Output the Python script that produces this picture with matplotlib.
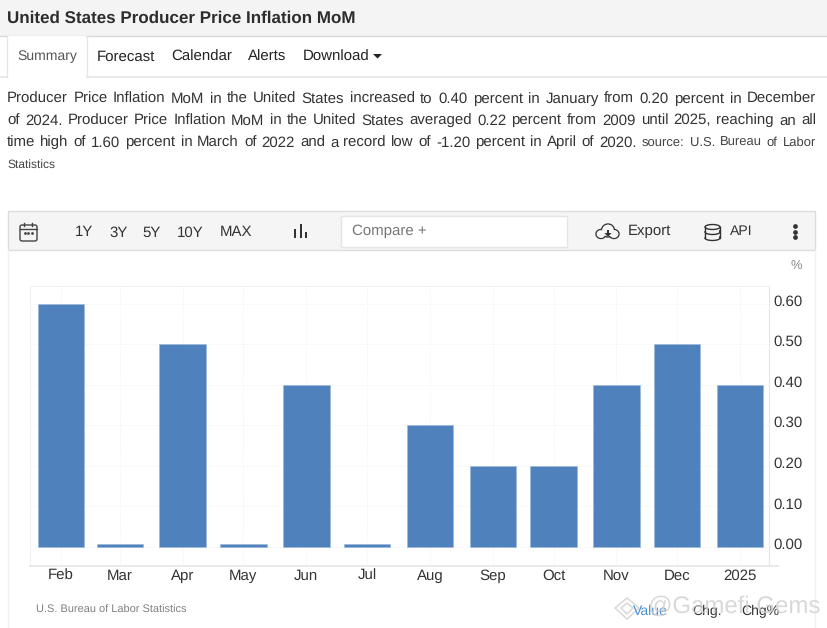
import pandas as pd
import matplotlib.pyplot as plt
import matplotlib.dates as mdates
from matplotlib.patches import Rectangle, FancyBboxPatch, Ellipse, Polygon
from matplotlib.transforms import ScaledTranslation

plt.rcParams["font.family"] = ["Liberation Sans", "DejaVu Sans"]
plt.rcParams["text.hinting"] = "no_hinting"
plt.rcParams["text.hinting_factor"] = 1

months = ["2024-02-01", "2024-03-01", "2024-04-01", "2024-05-01", "2024-06-01", "2024-07-01",
          "2024-08-01", "2024-09-01", "2024-10-01", "2024-11-01", "2024-12-01", "2025-01-01"]
tick_labels = ["Feb", "Mar", "Apr", "May", "Jun", "Jul", "Aug", "Sep", "Oct", "Nov", "Dec", "2025"]
values = [0.60, 0.008, 0.50, 0.008, 0.40, 0.008, 0.30, 0.20, 0.20, 0.40, 0.50, 0.40]
y_ticks = [0.0, 0.1, 0.2, 0.3, 0.4, 0.5, 0.6]

tabs = [("Forecast", 97), ("Calendar", 171), ("Alerts", 248), ("Download", 303)]
ranges = [("1Y", 84.5), ("3Y", 118.5), ("5Y", 152), ("10Y", 190.5), ("MAX", 236)]
body_lines = [
    "Producer Price Inflation MoM in the United States increased to 0.40 percent in January from 0.20 percent in December",
    "of 2024. Producer Price Inflation MoM in the United States averaged 0.22 percent from 2009 until 2025, reaching an all",
    "time high of 1.60 percent in March of 2022 and a record low of -1.20 percent in April of 2020.",
]
source_text = "source: U.S. Bureau of Labor"

W, H = 828, 628
fig = plt.figure(figsize=(W / 100, H / 100), dpi=100, facecolor="white")

# page chrome, in pixel coordinates
bg = fig.add_axes([0, 0, 1, 1])
bg.set_xlim(0, W)
bg.set_ylim(H, 0)
bg.axis("off")

bg.add_patch(Rectangle((0, 0), W, 35.5, fc="#f4f4f4", ec="none"))
bg.plot([0, W], [35.5, 35.5], color="#d9d9d9", lw=1)
bg.text(7, 18, "United States Producer Price Inflation MoM", fontsize=12.6, fontweight="bold",
        color="#2d2d2d", va="center")

# tabs
bg.plot([0, W], [76.5, 76.5], color="#e6e6e6", lw=1.2)
bg.add_patch(Rectangle((7.5, 36), 79, 42, fc="white", ec="none", zorder=2))
bg.plot([7.5, 7.5], [36, 77], color="#e6e6e6", lw=1, zorder=3)
bg.plot([87, 87], [36, 77], color="#e6e6e6", lw=1, zorder=3)
bg.text(17, 56.5, "Summary", fontsize=10.4, color="#555555", va="center", zorder=3)
for label, x in tabs:
    bg.text(x, 56.5, label, fontsize=10.7, color="#222222", va="center")
bg.add_patch(Polygon([(373, 54), (382, 54), (377.5, 58.5)], fc="#222222", ec="none"))

# justified paragraph
renderer = fig.canvas.get_renderer()


def word_width(word, size):
    t = bg.text(0, 0, word, fontsize=size)
    width = t.get_window_extent(renderer).width
    t.remove()
    return width


def draw_justified(parts, y, left=7, right=816):
    total = sum(word_width(w, s) for w, s, c in parts)
    gap = (right - left - total) / (len(parts) - 1)
    x = left
    for w, s, c in parts:
        bg.text(x, y, w, fontsize=s, color=c, va="center")
        x += word_width(w, s) + gap


body_size = 10.9
body_col = "#333333"
small_col = "#444444"
draw_justified([(w, body_size, body_col) for w in body_lines[0].split()], 99)
draw_justified([(w, body_size, body_col) for w in body_lines[1].split()], 120.5)
draw_justified([(w, body_size, body_col) for w in body_lines[2].split()]
               + [(w, 9, small_col) for w in source_text.split()], 142.5)
bg.text(7, 165, "Statistics", fontsize=8.8, color=small_col, va="center")

# toolbar
bg.add_patch(Rectangle((8, 211), 807, 39, fc="#f5f5f5", ec="#dddddd", lw=1))
bg.add_patch(FancyBboxPatch((20, 225), 17, 16, boxstyle="round,pad=0,rounding_size=2",
                            fc="none", ec="#444444", lw=1))
bg.plot([20, 37], [229, 229], color="#444444", lw=1)
bg.plot([24.5, 24.5], [223, 226], color="#444444", lw=1)
bg.plot([32.5, 32.5], [223, 226], color="#444444", lw=1)
bg.plot([25, 28.5, 32], [233, 233, 233], ls="none", marker="s", ms=0.9, color="#444444")
for label, x in ranges:
    bg.text(x, 232.5, label, fontsize=10.8, color="#333333", va="center", ha="center")
for x, top in [(295, 229), (301, 224), (306.5, 232)]:
    bg.add_patch(Rectangle((x - 1, top), 2, 238 - top, fc="#333333", ec="none"))
bg.add_patch(Rectangle((341.5, 215.5), 226, 31, fc="white", ec="#e5e5e5", lw=1))
bg.text(352, 231, "Compare +", fontsize=10.5, color="#777777", va="center")

# export cloud
for cx, cy, w, h in [(601, 234, 10, 9), (608, 230.5, 13, 13), (614, 234, 10, 9)]:
    bg.add_patch(Ellipse((cx, cy), w, h, fc="#f5f5f5", ec="#333333", lw=1))
bg.add_patch(Ellipse((601, 234), 8.5, 7.5, fc="#f5f5f5", ec="none"))
bg.add_patch(Ellipse((608, 230.5), 11.5, 11.5, fc="#f5f5f5", ec="none"))
bg.add_patch(Ellipse((614, 234), 8.5, 7.5, fc="#f5f5f5", ec="none"))
bg.add_patch(Polygon([(604.5, 233), (611.5, 233), (608, 237)], fc="#333333", ec="none"))
bg.add_patch(Rectangle((607, 229.5), 2, 4, fc="#333333", ec="none"))
bg.text(627.5, 231, "Export", fontsize=10.7, color="#333333", va="center")

# api database
bg.add_patch(Rectangle((705, 225), 15, 13, fc="#f5f5f5", ec="none"))
bg.add_patch(Ellipse((712.5, 238), 15, 5, fc="none", ec="#333333", lw=1))
bg.add_patch(Rectangle((705.5, 232), 14, 6, fc="#f5f5f5", ec="none"))
bg.add_patch(Ellipse((712.5, 232), 15, 5, fc="none", ec="#333333", lw=1))
bg.add_patch(Rectangle((705.5, 227), 14, 5, fc="#f5f5f5", ec="none"))
bg.add_patch(Ellipse((712.5, 227), 15, 5, fc="#f5f5f5", ec="#333333", lw=1))
bg.plot([705, 705], [227, 238], color="#333333", lw=1)
bg.plot([720, 720], [227, 238], color="#333333", lw=1)
bg.text(729.5, 231, "API", fontsize=10.4, color="#333333", va="center")

bg.plot([795.5] * 3, [226, 231.5, 237], ls="none", marker="o", ms=2.4, color="#333333")

# chart frame
bg.plot([8.5, 8.5], [250, H], color="#f2f2f2", lw=1)
bg.plot([815, 815], [250, H], color="#f2f2f2", lw=1)

# chart
x = pd.to_datetime(months)
px_per_day = 2.027
ax = fig.add_axes([30 / W, 1 - 566 / H, (769 - 30) / W, (566 - 286) / H])
ax.bar(x, values, width=46.5 / px_per_day, color="#4f81bd", edgecolor="#9db8da", linewidth=0.5, zorder=3)
x0 = mdates.date2num(x[0])
ax.set_xlim(x0 - 31 / px_per_day, x0 - 31 / px_per_day + 739 / px_per_day)
ax.set_ylim(-0.047, 0.644)
ax.set_xticks(x, labels=tick_labels)
ax.set_yticks(y_ticks, labels=[f"{v:.2f}" for v in y_ticks])
ax.yaxis.tick_right()
ax.tick_params(axis="x", length=0, pad=2, labelsize=10.6, labelcolor="#333333")
ax.tick_params(axis="y", length=0, pad=3, labelsize=10.8, labelcolor="#333333")
nudge = ScaledTranslation(0, 3.5 / 100, fig.dpi_scale_trans)
for lab in ax.get_yticklabels():
    lab.set_transform(lab.get_transform() + nudge)
ax.grid(True, color="#f0f0f0", lw=0.7, ls=":", zorder=0)
for side in ["top", "left"]:
    ax.spines[side].set_color("#f0f0f0")
    ax.spines[side].set_linewidth(0.7)
ax.spines["right"].set_color("#e6e6e6")
ax.spines["bottom"].set_color("#e6e6e6")
ax.spines["bottom"].set_linewidth(1.2)
ax.set_facecolor("none")

bg.plot([769, 778], [566, 566], color="#e6e6e6", lw=1.2)
bg.text(796, 266, "%", fontsize=9.5, color="#888888", va="center", ha="center")
bg.text(36, 610, "U.S. Bureau of Labor Statistics", fontsize=8.1, color="#808080", va="center")

# table header peeking out under the watermark
bg.text(633, 611, "Value", fontsize=10, color="#4a90d9", va="center")
bg.text(692, 611, "Chg.", fontsize=10, color="#333333", va="center")
bg.text(741, 611, "Chg%", fontsize=10, color="#333333", va="center")

# watermark
bg.add_patch(Polygon([(615, 608), (627, 598), (639, 608), (627, 619)], fc="none", ec="#d5d5d5", lw=1))
bg.add_patch(Polygon([(621, 608), (627, 603), (633, 608), (627, 614)], fc="none", ec="#d5d5d5", lw=1))
bg.text(648, 606.5, "@Gamefi Gems", fontsize=17, color="#cfcfcf", alpha=0.8, va="center")

fig.savefig("out.png", dpi=100)
